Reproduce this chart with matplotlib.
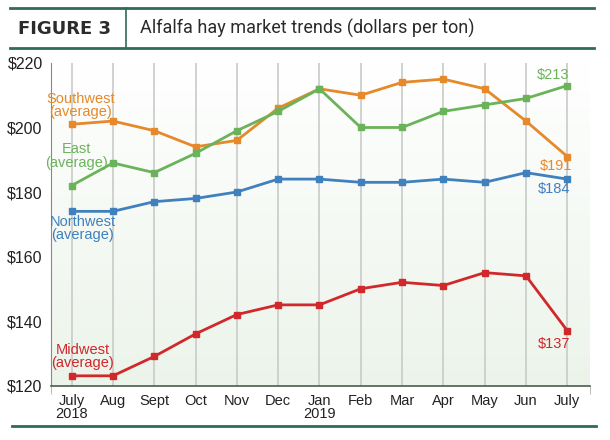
import numpy as np
import matplotlib
matplotlib.use('Agg')
import matplotlib.pyplot as plt
from matplotlib.lines import Line2D

# data (dollars per ton)
months = ['July\n2018', 'Aug', 'Sept', 'Oct', 'Nov', 'Dec', 'Jan\n2019',
          'Feb', 'Mar', 'Apr', 'May', 'Jun', 'July']
southwest = [201, 202, 199, 194, 196, 206, 212, 210, 214, 215, 212, 202, 191]
east = [182, 189, 186, 192, 199, 205, 212, 200, 200, 205, 207, 209, 213]
northwest = [174, 174, 177, 178, 180, 184, 184, 183, 183, 184, 183, 186, 184]
midwest = [123, 123, 129, 136, 142, 145, 145, 150, 152, 151, 155, 154, 137]
yticks = [120, 140, 160, 180, 200, 220]

c_sw = '#e5892a'
c_e = '#6bb35b'
c_nw = '#3f80bd'
c_mw = '#d0282b'
hdr = '#2f6b58'
narrow = ['Liberation Sans', 'DejaVu Sans']

fig = plt.figure(figsize=(6.1, 4.4), dpi=100)
ax = fig.add_axes([51/610, 1 - 385.5/440, (590-51)/610, (385.5-63)/440])

x = np.arange(len(months))

# background gradient white (top) -> pale green (bottom)
grad = np.linspace(0, 1, 256).reshape(-1, 1)
top = np.array([1.0, 1.0, 1.0])
bot = np.array([0.925, 0.957, 0.918])
img = top + (bot - top) * grad[:, :, None] * np.ones((1, 1, 3))
ax.imshow(img, extent=[-0.5, 12.55, 120, 220], aspect='auto', zorder=0)
ax.set_xlim(-0.5, 12.55)
ax.set_ylim(120, 220)

for xi in x:
    ax.axvline(xi, color='#c9cbc9', lw=1.2, zorder=1)

for vals, col in [(southwest, c_sw), (east, c_e), (northwest, c_nw), (midwest, c_mw)]:
    ax.plot(x, vals, color=col, lw=2.0, marker='s', ms=4.5, zorder=3)

ax.set_xticks(x)
ax.set_xticklabels(months, fontsize=10.5, family=narrow, color='#222222', linespacing=0.95)
ax.tick_params(axis='x', length=0, pad=6)
ax.set_xticks([-0.5, 12.55], minor=True)
ax.tick_params(axis='x', which='minor', length=6, color='#b0b0b0')
ax.set_yticks(yticks)
ax.set_yticklabels(['$%d' % v for v in yticks], fontsize=11.5, family=narrow, color='#222222')
ax.tick_params(axis='y', length=0, pad=6)

for s in ['top', 'right']:
    ax.spines[s].set_visible(False)
ax.spines['left'].set_color('#888888')
ax.spines['bottom'].set_color('#4a5a50')
ax.spines['bottom'].set_linewidth(1.2)

# series labels
lab = dict(fontsize=10.5, family=narrow, ha='center', va='center', linespacing=0.95, zorder=4)
ax.text(0.22, 206.8, 'Southwest\n(average)', color=c_sw, **lab)
ax.text(0.12, 191.2, 'East\n(average)', color=c_e, **lab)
ax.text(0.27, 168.7, 'Northwest\n(average)', color=c_nw, **lab)
ax.text(0.27, 129.0, 'Midwest\n(average)', color=c_mw, **lab)
ax.text(11.66, 216.3, '$213', color=c_e, **lab)
ax.text(11.74, 188.1, '$191', color=c_sw, **lab)
ax.text(11.69, 180.9, '$184', color=c_nw, **lab)
ax.text(11.69, 132.9, '$137', color=c_mw, **lab)

# header band
def fx(px):
    return px / 610
def fy(py):
    return 1 - py / 440

fig.add_artist(Line2D([fx(10), fx(594)], [fy(8.5), fy(8.5)], color=hdr, lw=2))
fig.add_artist(Line2D([fx(10), fx(594)], [fy(48.5), fy(48.5)], color=hdr, lw=2))
fig.add_artist(Line2D([fx(126), fx(126)], [fy(8.5), fy(48.5)], color=hdr, lw=1.2))
fig.add_artist(Line2D([fx(12), fx(596)], [fy(426), fy(426)], color=hdr, lw=2))
fig.text(fx(18), fy(28.5), 'FIGURE 3', fontsize=13, fontweight='bold', color='#2b2b2b',
         family='DejaVu Sans', va='center', ha='left')
fig.text(fx(140), fy(28.5), 'Alfalfa hay market trends (dollars per ton)', fontsize=13,
         color='#2b2b2b', family='Roboto', va='center', ha='left')

fig.savefig('out.png', dpi=100)
